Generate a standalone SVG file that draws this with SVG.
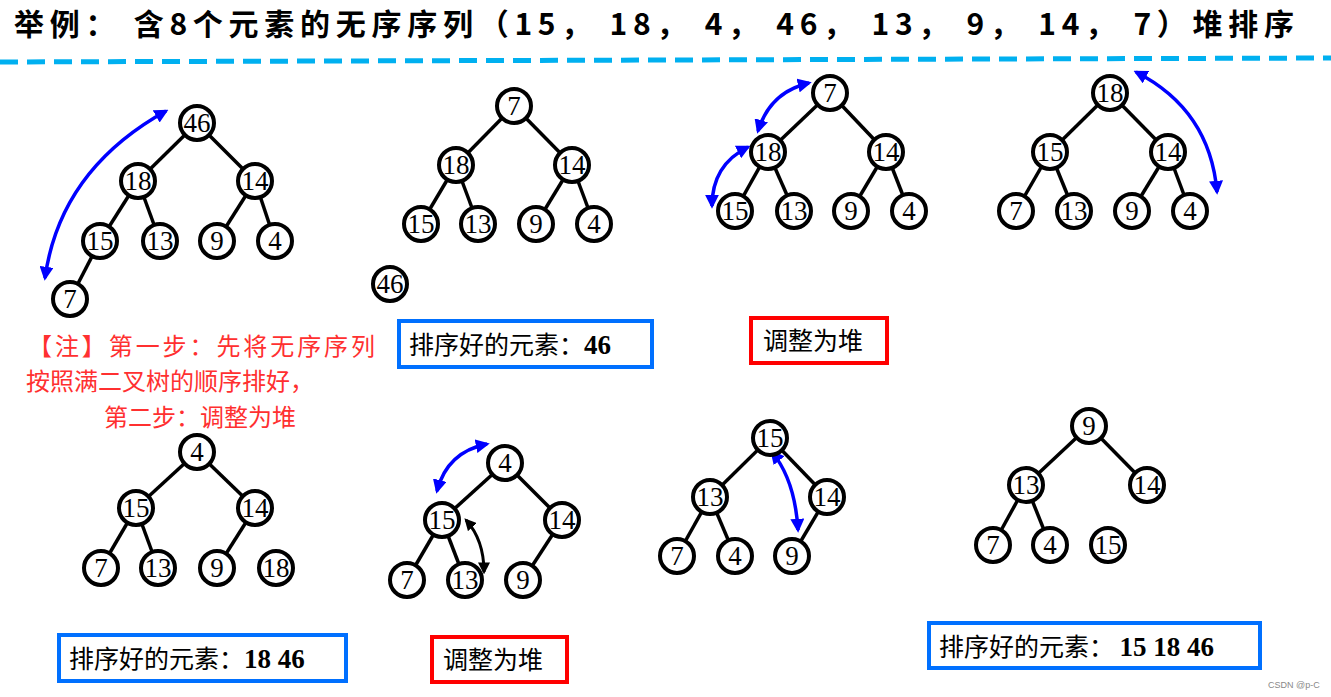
<svg xmlns="http://www.w3.org/2000/svg" width="1331" height="697" viewBox="0 0 1331 697">
<style>
.n circle{fill:#fff;stroke:#000;stroke-width:4}
.n text{font-family:"Liberation Serif",serif;font-size:27px;text-anchor:middle;dominant-baseline:central}
.e line{stroke:#000;stroke-width:3.5}
.b{fill:none;stroke:#0000ff;stroke-width:3.5}
.k{fill:none;stroke:#000;stroke-width:3}
.box{fill:#fff;stroke-width:4}
.lbl{font-family:"Noto Sans CJK SC",sans-serif;font-size:25px}
.num{font-family:"Liberation Serif",serif;font-weight:bold;font-size:27px}
.note{font-family:"Noto Sans CJK SC",sans-serif;font-size:24px;fill:#ff3030}
</style>
<defs>
<marker id="ab" viewBox="0 0 10 10" refX="8" refY="5" markerWidth="4" markerHeight="4" orient="auto-start-reverse"><path d="M0,0L10,5L0,10z" fill="#0000ff"/></marker>
<marker id="ak" viewBox="0 0 10 10" refX="8" refY="5" markerWidth="4" markerHeight="4" orient="auto-start-reverse"><path d="M0,0L10,5L0,10z" fill="#000"/></marker>
</defs>
<rect width="1331" height="697" fill="#fff"/>
<text x="14" y="35" font-family="Noto Sans CJK SC,sans-serif" font-weight="bold" font-size="30" textLength="1280" lengthAdjust="spacing">举例： 含8个元素的无序序列（15， 18， 4， 46， 13， 9， 14， 7）堆排序</text>
<line x1="0" y1="62" x2="1331" y2="58" stroke="#00b0f0" stroke-width="5" stroke-dasharray="18,9"/>
<g id="connectors">
<g class="e">
<line x1="197" y1="123" x2="138" y2="181"/><line x1="197" y1="123" x2="255" y2="181"/><line x1="138" y1="181" x2="100" y2="241"/><line x1="138" y1="181" x2="160" y2="241"/><line x1="255" y1="181" x2="217" y2="241"/><line x1="255" y1="181" x2="275" y2="241"/><line x1="100" y1="241" x2="70" y2="299"/>
<line x1="514" y1="106" x2="456" y2="165"/><line x1="514" y1="106" x2="572" y2="165"/><line x1="456" y1="165" x2="421" y2="224"/><line x1="456" y1="165" x2="478" y2="224"/><line x1="572" y1="165" x2="536" y2="224"/><line x1="572" y1="165" x2="594" y2="224"/>
<line x1="830" y1="93" x2="768" y2="152"/><line x1="830" y1="93" x2="886" y2="152"/><line x1="768" y1="152" x2="735" y2="211"/><line x1="768" y1="152" x2="794" y2="211"/><line x1="886" y1="152" x2="851" y2="211"/><line x1="886" y1="152" x2="909" y2="211"/>
<line x1="1110" y1="93" x2="1050" y2="152"/><line x1="1110" y1="93" x2="1168" y2="152"/><line x1="1050" y1="152" x2="1016" y2="211"/><line x1="1050" y1="152" x2="1074" y2="211"/><line x1="1168" y1="152" x2="1132" y2="211"/><line x1="1168" y1="152" x2="1190" y2="211"/>
<line x1="197" y1="452" x2="136" y2="508"/><line x1="197" y1="452" x2="255" y2="508"/><line x1="136" y1="508" x2="101" y2="568"/><line x1="136" y1="508" x2="158" y2="568"/><line x1="255" y1="508" x2="217" y2="568"/>
<line x1="505" y1="463" x2="442" y2="520"/><line x1="505" y1="463" x2="562" y2="520"/><line x1="442" y1="520" x2="407" y2="580"/><line x1="442" y1="520" x2="465" y2="580"/><line x1="562" y1="520" x2="523" y2="580"/>
<line x1="770" y1="438" x2="710" y2="497"/><line x1="770" y1="438" x2="827" y2="497"/><line x1="710" y1="497" x2="677" y2="556"/><line x1="710" y1="497" x2="735" y2="556"/><line x1="827" y1="497" x2="792" y2="556"/>
<line x1="1089" y1="426" x2="1026" y2="485"/><line x1="1089" y1="426" x2="1147" y2="485"/><line x1="1026" y1="485" x2="993" y2="545"/><line x1="1026" y1="485" x2="1050" y2="545"/>
</g>
<path class="b" d="M166,111 Q60,170 45,278" marker-start="url(#ab)" marker-end="url(#ab)"/>
<path class="b" d="M809,83 Q770,92 758,131" marker-start="url(#ab)" marker-end="url(#ab)"/>
<path class="b" d="M748,147 Q712,165 712,206" marker-start="url(#ab)" marker-end="url(#ab)"/>
<path class="b" d="M1136,72 Q1210,110 1217,192" marker-start="url(#ab)" marker-end="url(#ab)"/>
<path class="b" d="M487,444 Q447,452 437,491" marker-start="url(#ab)" marker-end="url(#ab)"/>
<path class="k" d="M466,520 Q484,540 484,572" marker-start="url(#ak)" marker-end="url(#ak)"/>
<path class="b" d="M772,452 Q795,480 798,530" marker-start="url(#ab)" marker-end="url(#ab)"/>
</g>
<g id="t1" class="n">
<g id="t1a"><circle cx="197" cy="123" r="17"/><text x="197" y="123">46</text></g>
<g id="t1b"><circle cx="138" cy="181" r="17"/><text x="138" y="181">18</text></g>
<g id="t1c"><circle cx="255" cy="181" r="17"/><text x="255" y="181">14</text></g>
<g id="t1d"><circle cx="100" cy="241" r="17"/><text x="100" y="241">15</text></g>
<g id="t1e"><circle cx="160" cy="241" r="17"/><text x="160" y="241">13</text></g>
<g id="t1f"><circle cx="217" cy="241" r="17"/><text x="217" y="241">9</text></g>
<g id="t1g"><circle cx="275" cy="241" r="17"/><text x="275" y="241">4</text></g>
<g id="t1h"><circle cx="70" cy="299" r="17"/><text x="70" y="299">7</text></g>
</g>
<g id="t2" class="n">
<g id="t2a"><circle cx="514" cy="106" r="17"/><text x="514" y="106">7</text></g>
<g id="t2b"><circle cx="456" cy="165" r="17"/><text x="456" y="165">18</text></g>
<g id="t2c"><circle cx="572" cy="165" r="17"/><text x="572" y="165">14</text></g>
<g id="t2d"><circle cx="421" cy="224" r="17"/><text x="421" y="224">15</text></g>
<g id="t2e"><circle cx="478" cy="224" r="17"/><text x="478" y="224">13</text></g>
<g id="t2f"><circle cx="536" cy="224" r="17"/><text x="536" y="224">9</text></g>
<g id="t2g"><circle cx="594" cy="224" r="17"/><text x="594" y="224">4</text></g>
<g id="t2h"><circle cx="390" cy="284" r="17"/><text x="390" y="284">46</text></g>
</g>
<g id="t3" class="n">
<g id="t3a"><circle cx="830" cy="93" r="17"/><text x="830" y="93">7</text></g>
<g id="t3b"><circle cx="768" cy="152" r="17"/><text x="768" y="152">18</text></g>
<g id="t3c"><circle cx="886" cy="152" r="17"/><text x="886" y="152">14</text></g>
<g id="t3d"><circle cx="735" cy="211" r="17"/><text x="735" y="211">15</text></g>
<g id="t3e"><circle cx="794" cy="211" r="17"/><text x="794" y="211">13</text></g>
<g id="t3f"><circle cx="851" cy="211" r="17"/><text x="851" y="211">9</text></g>
<g id="t3g"><circle cx="909" cy="211" r="17"/><text x="909" y="211">4</text></g>
</g>
<g id="t4" class="n">
<g id="t4a"><circle cx="1110" cy="93" r="17"/><text x="1110" y="93">18</text></g>
<g id="t4b"><circle cx="1050" cy="152" r="17"/><text x="1050" y="152">15</text></g>
<g id="t4c"><circle cx="1168" cy="152" r="17"/><text x="1168" y="152">14</text></g>
<g id="t4d"><circle cx="1016" cy="211" r="17"/><text x="1016" y="211">7</text></g>
<g id="t4e"><circle cx="1074" cy="211" r="17"/><text x="1074" y="211">13</text></g>
<g id="t4f"><circle cx="1132" cy="211" r="17"/><text x="1132" y="211">9</text></g>
<g id="t4g"><circle cx="1190" cy="211" r="17"/><text x="1190" y="211">4</text></g>
</g>
<g id="t5" class="n">
<g id="t5a"><circle cx="197" cy="452" r="17"/><text x="197" y="452">4</text></g>
<g id="t5b"><circle cx="136" cy="508" r="17"/><text x="136" y="508">15</text></g>
<g id="t5c"><circle cx="255" cy="508" r="17"/><text x="255" y="508">14</text></g>
<g id="t5d"><circle cx="101" cy="568" r="17"/><text x="101" y="568">7</text></g>
<g id="t5e"><circle cx="158" cy="568" r="17"/><text x="158" y="568">13</text></g>
<g id="t5f"><circle cx="217" cy="568" r="17"/><text x="217" y="568">9</text></g>
<g id="t5g"><circle cx="276" cy="568" r="17"/><text x="276" y="568">18</text></g>
</g>
<g id="t6" class="n">
<g id="t6a"><circle cx="505" cy="463" r="17"/><text x="505" y="463">4</text></g>
<g id="t6b"><circle cx="442" cy="520" r="17"/><text x="442" y="520">15</text></g>
<g id="t6c"><circle cx="562" cy="520" r="17"/><text x="562" y="520">14</text></g>
<g id="t6d"><circle cx="407" cy="580" r="17"/><text x="407" y="580">7</text></g>
<g id="t6e"><circle cx="465" cy="580" r="17"/><text x="465" y="580">13</text></g>
<g id="t6f"><circle cx="523" cy="580" r="17"/><text x="523" y="580">9</text></g>
</g>
<g id="t7" class="n">
<g id="t7a"><circle cx="770" cy="438" r="17"/><text x="770" y="438">15</text></g>
<g id="t7b"><circle cx="710" cy="497" r="17"/><text x="710" y="497">13</text></g>
<g id="t7c"><circle cx="827" cy="497" r="17"/><text x="827" y="497">14</text></g>
<g id="t7d"><circle cx="677" cy="556" r="17"/><text x="677" y="556">7</text></g>
<g id="t7e"><circle cx="735" cy="556" r="17"/><text x="735" y="556">4</text></g>
<g id="t7f"><circle cx="792" cy="556" r="17"/><text x="792" y="556">9</text></g>
</g>
<g id="t8" class="n">
<g id="t8a"><circle cx="1089" cy="426" r="17"/><text x="1089" y="426">9</text></g>
<g id="t8b"><circle cx="1026" cy="485" r="17"/><text x="1026" y="485">13</text></g>
<g id="t8c"><circle cx="1147" cy="485" r="17"/><text x="1147" y="485">14</text></g>
<g id="t8d"><circle cx="993" cy="545" r="17"/><text x="993" y="545">7</text></g>
<g id="t8e"><circle cx="1050" cy="545" r="17"/><text x="1050" y="545">4</text></g>
<g id="t8f"><circle cx="1108" cy="545" r="17"/><text x="1108" y="545">15</text></g>
</g>
<g id="note">
<text class="note" x="28" y="355" textLength="347">【注】第一步：先将无序序列</text>
<text class="note" x="26" y="390">按照满二叉树的顺序排好，</text>
<text class="note" x="104" y="426">第二步：调整为堆</text>
</g>
<g id="box1"><rect class="box" x="399" y="321" width="253" height="46" stroke="#0070ff"/><text class="lbl" x="409" y="354">排序好的元素：<tspan class="num">46</tspan></text></g>
<g id="box2"><rect class="box" x="751" y="318" width="136" height="45" stroke="#ff0000"/><text class="lbl" x="763" y="350" font-size="26">调整为堆</text></g>
<g id="box3"><rect class="box" x="59" y="635" width="287" height="46" stroke="#0070ff"/><text class="lbl" x="69" y="668">排序好的元素：<tspan class="num">18 46</tspan></text></g>
<g id="box4"><rect class="box" x="432" y="637" width="135" height="45" stroke="#ff0000"/><text class="lbl" x="443" y="669" font-size="26">调整为堆</text></g>
<g id="box5"><rect class="box" x="929" y="623" width="331" height="45" stroke="#0070ff"/><text class="lbl" x="939" y="656">排序好的元素：  <tspan class="num">15 18 46</tspan></text></g>
<text x="1268" y="688" font-family="Liberation Sans,sans-serif" font-size="9" fill="#888">CSDN @p-C</text>
</svg>
